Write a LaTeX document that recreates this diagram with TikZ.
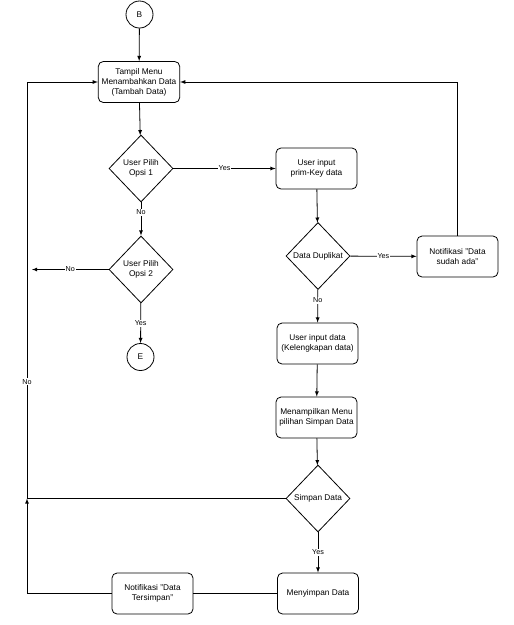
\documentclass[tikz,border=0pt]{standalone}
\usepackage{fontspec}
\setmainfont{Liberation Sans}
\usetikzlibrary{shapes,arrows,positioning}

\begin{document}
\begin{tikzpicture}[x=1pt, y=1pt, >=latex, line width=0.8pt,
  proc/.style={draw, rounded corners=5pt, minimum width=81pt, minimum height=41pt, align=center, font=\fontsize{8.3}{10}\selectfont},
  dec/.style={draw, diamond, aspect=1, minimum width=64pt, minimum height=67pt, inner sep=1pt, align=center, font=\fontsize{8.3}{10}\selectfont},
  conn/.style={draw, circle, minimum size=27pt, inner sep=0pt, font=\fontsize{8.3}{10}\selectfont},
  lbl/.style={fill=white, inner sep=1pt, font=\fontsize{7.2}{8}\selectfont}]
\useasboundingbox (0,0) rectangle (514,-625);

\node[conn, xshift=139.5pt, yshift=-14.5pt] (B) {B};
\node[proc, xshift=139pt, yshift=-82pt] (menu) {Tampil Menu\\Menambahkan Data\\(Tambah Data)};
\node[dec, xshift=141pt, yshift=-168.5pt] (opsi1) {User Pilih\\Opsi 1};
\node[dec, xshift=141pt, yshift=-269.5pt] (opsi2) {User Pilih\\Opsi 2};
\node[conn, xshift=140.5pt, yshift=-357pt] (E) {E};
%============
\node[proc, xshift=316.5pt, yshift=-168.5pt] (prim) {User input\\prim-Key data};
\node[dec, xshift=318pt, yshift=-256pt] (dup) {Data Duplikat};
\node[proc, xshift=457.5pt, yshift=-256.5pt] (sudah) {Notifikasi "Data\\sudah ada"};
\node[proc, xshift=317.5pt, yshift=-343.5pt] (input) {User input data\\(Kelengkapan data)};
\node[proc, xshift=316.5pt, yshift=-417.5pt] (pilihan) {Menampilkan Menu\\pilihan Simpan Data};
\node[dec, xshift=318pt, yshift=-498.5pt] (simpan) {Simpan Data};
\node[proc, xshift=318pt, yshift=-593.5pt] (menyimpan) {Menyimpan Data};
\node[proc, xshift=152.5pt, yshift=-593.5pt] (tersimpan) {Notifikasi "Data\\Tersimpan"};
%==========
\coordinate (keluar) at (32,-269.5);
\coordinate (loop) at (27,-498.5);

            \draw[->] (B) -- (menu);
            \draw[->] (menu) -- (opsi1);
            \draw[->] (opsi1) -- node[lbl] {Yes} (prim);
            \draw[->] (opsi1) -- node[lbl, pos=0.3] {No} (opsi2);
            \draw[->] (opsi2) -- node[lbl] {No} (keluar);
            \draw[->] (opsi2) -- node[lbl] {Yes} (E);
            \draw[->] (prim) -- (dup);
            \draw[->] (dup) -- node[lbl] {Yes} (sudah);
            \draw[->] (dup) -- node[lbl, pos=0.32] {No} (input);
            \draw[->] (sudah.north) |- (menu.east);
            \draw[->] (input) -- (pilihan);
            \draw[->] (pilihan) -- (simpan);
            \draw[->] (simpan) -- node[lbl] {Yes} (menyimpan);
            \draw[->] (simpan.west) -- (loop) -- node[lbl, pos=0.28] {No} (loop |- menu.west) -- (menu.west);
            \draw (menyimpan) -- (tersimpan);
            \draw[->] (tersimpan.west) -| (loop);

\end{tikzpicture}
\end{document}
